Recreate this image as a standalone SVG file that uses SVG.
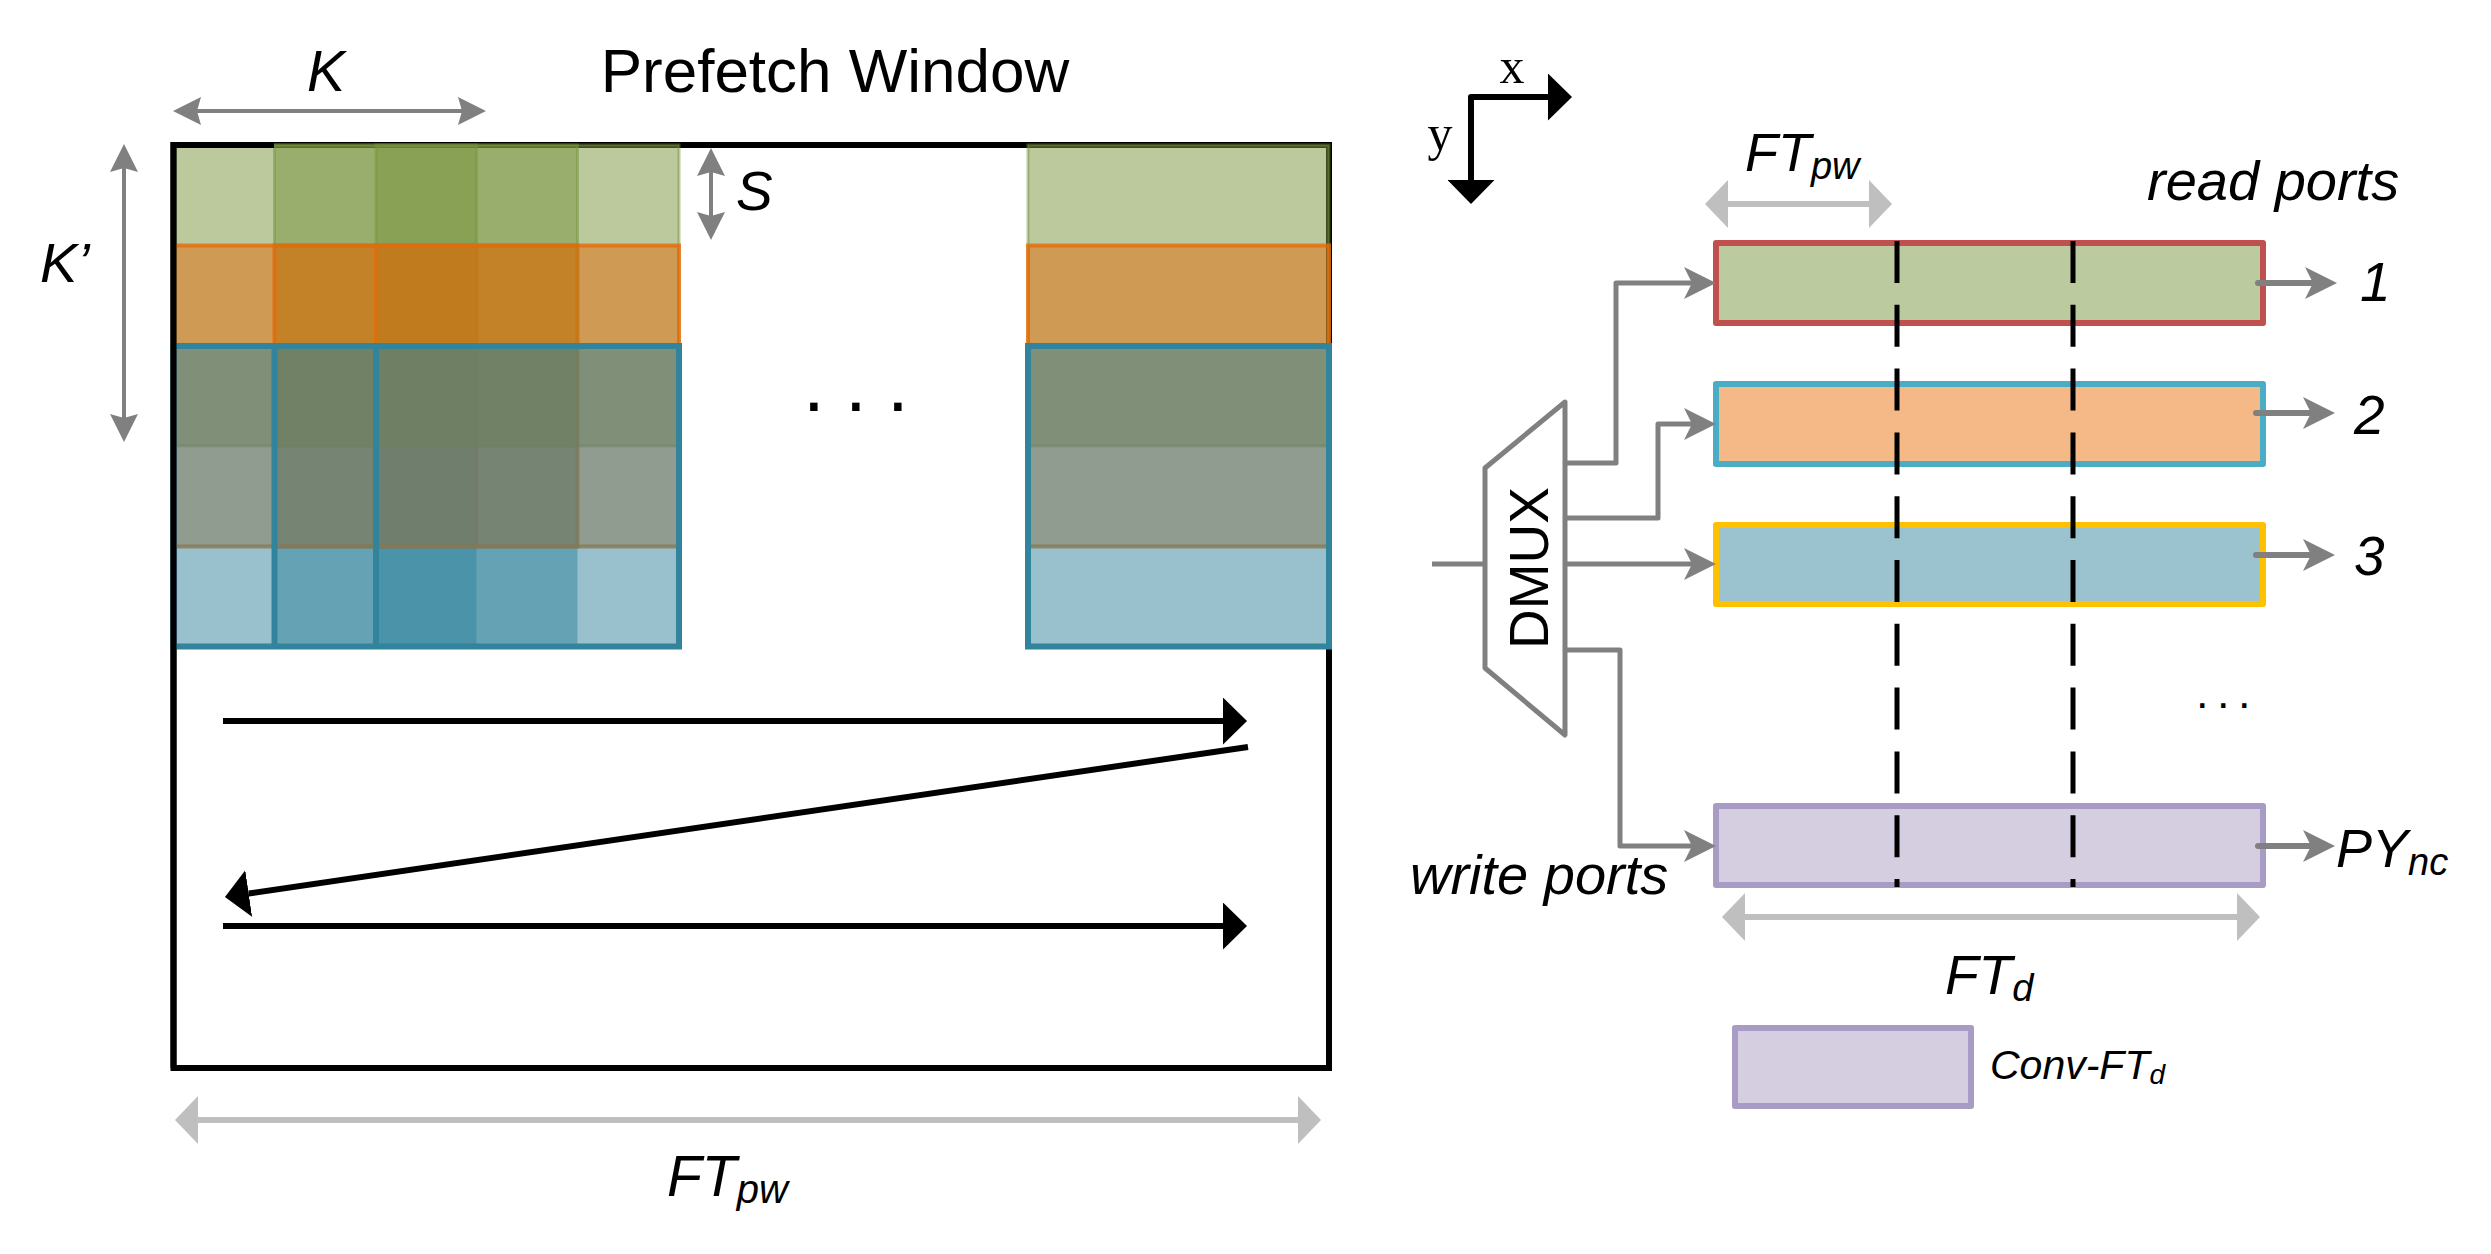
<svg xmlns="http://www.w3.org/2000/svg" width="2491" height="1254" viewBox="0 0 2491 1254">
<defs>
<style>
text{font-family:"Liberation Sans",Arial,sans-serif;fill:#000}
.it{font-style:italic}
.serif{font-family:"Liberation Serif","Times New Roman",serif}
.g{fill:#77933C;fill-opacity:.5;stroke:#77933C;stroke-opacity:.5;stroke-width:3}
.o{fill:#E46C0A;fill-opacity:.5;stroke:#E46C0A;stroke-opacity:.8;stroke-width:4}
.b{fill:#31849B;fill-opacity:.5;stroke:none}
.bs{fill:none;stroke:#31849B;stroke-width:6}
.blk{fill:none;stroke:#000;stroke-width:6}
.gr{fill:none;stroke:#808080;stroke-width:5;stroke-linejoin:round}
.gr6{fill:none;stroke:#808080;stroke-width:6;stroke-linecap:round}
.kk{fill:none;stroke:#808080;stroke-width:4}
.lg{fill:none;stroke:#BFBFBF;stroke-width:6}
.buf{stroke-width:6;stroke-linejoin:round}
.dash{fill:none;stroke:#000;stroke-width:5;stroke-dasharray:42 21.8}
</style>
<marker id="bh" markerUnits="userSpaceOnUse" markerWidth="24" markerHeight="47" viewBox="0 0 24 47" refX="0" refY="23.5" orient="auto-start-reverse"><path d="M0,0 L24,23.5 L0,47 z" fill="#000"/></marker>
<marker id="gh" markerUnits="userSpaceOnUse" markerWidth="32" markerHeight="32" viewBox="0 0 32 32" refX="8" refY="16" orient="auto"><path d="M0,0 L32,16 L0,32 L8,16 z" fill="#808080"/></marker>
<marker id="kh" markerUnits="userSpaceOnUse" markerWidth="28" markerHeight="28" viewBox="0 0 28 28" refX="4" refY="14" orient="auto-start-reverse"><path d="M0,0 L28,14 L0,28 L4,14 z" fill="#808080"/></marker>
<marker id="lh" markerUnits="userSpaceOnUse" markerWidth="23" markerHeight="48" viewBox="0 0 23 48" refX="0" refY="24" orient="auto-start-reverse"><path d="M0,0 L23,24 L0,48 z" fill="#BFBFBF"/></marker>
</defs>
<rect width="2491" height="1254" fill="#fff"/>

<g id="prefetch-window">
<rect class="blk" x="173.5" y="145" width="1155.5" height="923"/>
<text x="835" y="92" font-size="62" text-anchor="middle">Prefetch Window</text>
</g>

<g id="kernel-windows">
<rect class="g" x="173.5" y="145" width="303" height="301"/>
<rect class="o" x="173.5" y="245.5" width="303" height="301"/>
<rect class="b" x="173.5" y="346" width="303" height="300.5"/>
<rect class="g" x="274.5" y="145" width="303" height="301"/>
<rect class="o" x="274.5" y="245.5" width="303" height="301"/>
<rect class="b" x="274.5" y="346" width="303" height="300.5"/>
<rect class="g" x="376" y="145" width="303" height="301"/>
<rect class="o" x="376" y="245.5" width="303" height="301"/>
<rect class="b" x="376" y="346" width="303" height="300.5"/>
<path class="bs" d="M173.5,346 H679 V646.5 H173.5 Z M274.5,346 V646.5 M376,346 V646.5"/>
<path class="blk" d="M274,145 H173.5 V1068"/>
</g>

<g id="last-window">
<rect class="g" x="1028" y="145" width="301" height="301"/>
<rect class="o" x="1028" y="245.5" width="301" height="301"/>
<rect class="b" x="1028" y="346" width="301" height="300.5"/>
<rect class="bs" x="1028" y="346" width="301" height="300.5"/>
</g>

<g id="dimension-labels">
<text class="it" x="326" y="91" font-size="57" text-anchor="middle">K</text>
<text class="it" x="40" y="282" font-size="56">K&#8217;</text>
<text class="it" x="736" y="210" font-size="55">S</text>
<text x="803" y="411" font-size="78" letter-spacing="20.3">...</text>
<text class="it" x="667" y="1196" font-size="57">FT<tspan font-size="40" dy="7">pw</tspan></text>
</g>

<g id="axes">
<path class="blk" d="M1471,180 V97 H1548" stroke-linejoin="round" marker-start="url(#bh)" marker-end="url(#bh)"/>
<text class="serif" x="1512" y="83" font-size="50" text-anchor="middle">x</text>
<text class="serif" x="1440" y="150" font-size="50" text-anchor="middle">y</text>
</g>

<g id="dmux">
<polygon points="1565,402 1485,468 1485,668 1565,735" fill="#fff" stroke="#808080" stroke-width="5" stroke-linejoin="round"/>
<text transform="translate(1548,568) rotate(-90)" font-size="55" text-anchor="middle">DMUX</text>
</g>

<g id="buffer-1">
<rect class="buf" x="1716" y="243" width="547" height="80" fill="#BBCA9F" stroke="#C0504D"/>
<text class="it" x="2360" y="301" font-size="55">1</text>
</g>
<g id="buffer-2">
<rect class="buf" x="1716" y="384" width="547" height="80" fill="#F5B988" stroke="#4BACC6"/>
<text class="it" x="2354" y="434" font-size="55">2</text>
</g>
<g id="buffer-3">
<rect class="buf" x="1716" y="525" width="547" height="79" fill="#9AC3CF" stroke="#FFC000"/>
<text class="it" x="2354" y="575" font-size="55">3</text>
</g>
<g id="buffer-n">
<rect class="buf" x="1716" y="806" width="547" height="79" fill="#D5CEE1" stroke="#A89BC4"/>
<text class="it" x="2336" y="867" font-size="54">PY<tspan font-size="38" dy="8">nc</tspan></text>
</g>
<g id="legend">
<rect class="buf" x="1735" y="1028" width="236" height="78" fill="#D5CEE1" stroke="#A89BC4"/>
<text class="it" x="1990" y="1079" font-size="41">Conv-FT<tspan font-size="28" dy="5">d</tspan></text>
</g>

<g id="port-labels">
<text class="it" x="2147" y="200" font-size="56">read ports</text>
<text class="it" x="1410" y="894" font-size="56">write ports</text>
<text class="it" x="1745" y="171" font-size="54">FT<tspan font-size="38" dy="8">pw</tspan></text>
<text class="it" x="1945" y="994" font-size="55">FT<tspan font-size="38" dy="7">d</tspan></text>
<text x="2196" y="708" font-size="45" letter-spacing="8.5">...</text>
</g>

<g id="connectors">
<path class="kk" d="M197,111 H462" marker-start="url(#kh)" marker-end="url(#kh)"/>
<path class="kk" d="M124,168 V418" marker-start="url(#kh)" marker-end="url(#kh)"/>
<path class="kk" d="M711,172 V216" marker-start="url(#kh)" marker-end="url(#kh)"/>
<path class="blk" d="M223,721 H1223" marker-end="url(#bh)"/>
<path class="blk" d="M1248,747 L248.7,893.5" stroke-width="7" marker-end="url(#bh)"/>
<path class="blk" d="M223,926 H1223" marker-end="url(#bh)"/>
<path class="lg" d="M198,1120 H1298" marker-start="url(#lh)" marker-end="url(#lh)"/>
<path class="lg" d="M1728,204 H1869" marker-start="url(#lh)" marker-end="url(#lh)"/>
<path class="lg" d="M1745,917 H2237" marker-start="url(#lh)" marker-end="url(#lh)"/>
<path class="gr" d="M1432,564 H1485"/>
<path class="gr" d="M1565,463 H1616 V283 H1692" marker-end="url(#gh)"/>
<path class="gr" d="M1565,518 H1658 V424 H1692" marker-end="url(#gh)"/>
<path class="gr" d="M1565,564 H1692" marker-end="url(#gh)"/>
<path class="gr" d="M1565,650 H1620 V846 H1692" marker-end="url(#gh)"/>
<path class="gr6" d="M2258,283 H2313" marker-end="url(#gh)"/>
<path class="gr6" d="M2256,413 H2311" marker-end="url(#gh)"/>
<path class="gr6" d="M2256,555 H2311" marker-end="url(#gh)"/>
<path class="gr6" d="M2258,846 H2311" marker-end="url(#gh)"/>
<path class="dash" d="M1897,241 V887"/>
<path class="dash" d="M2073,241 V887"/>
</g>
</svg>
